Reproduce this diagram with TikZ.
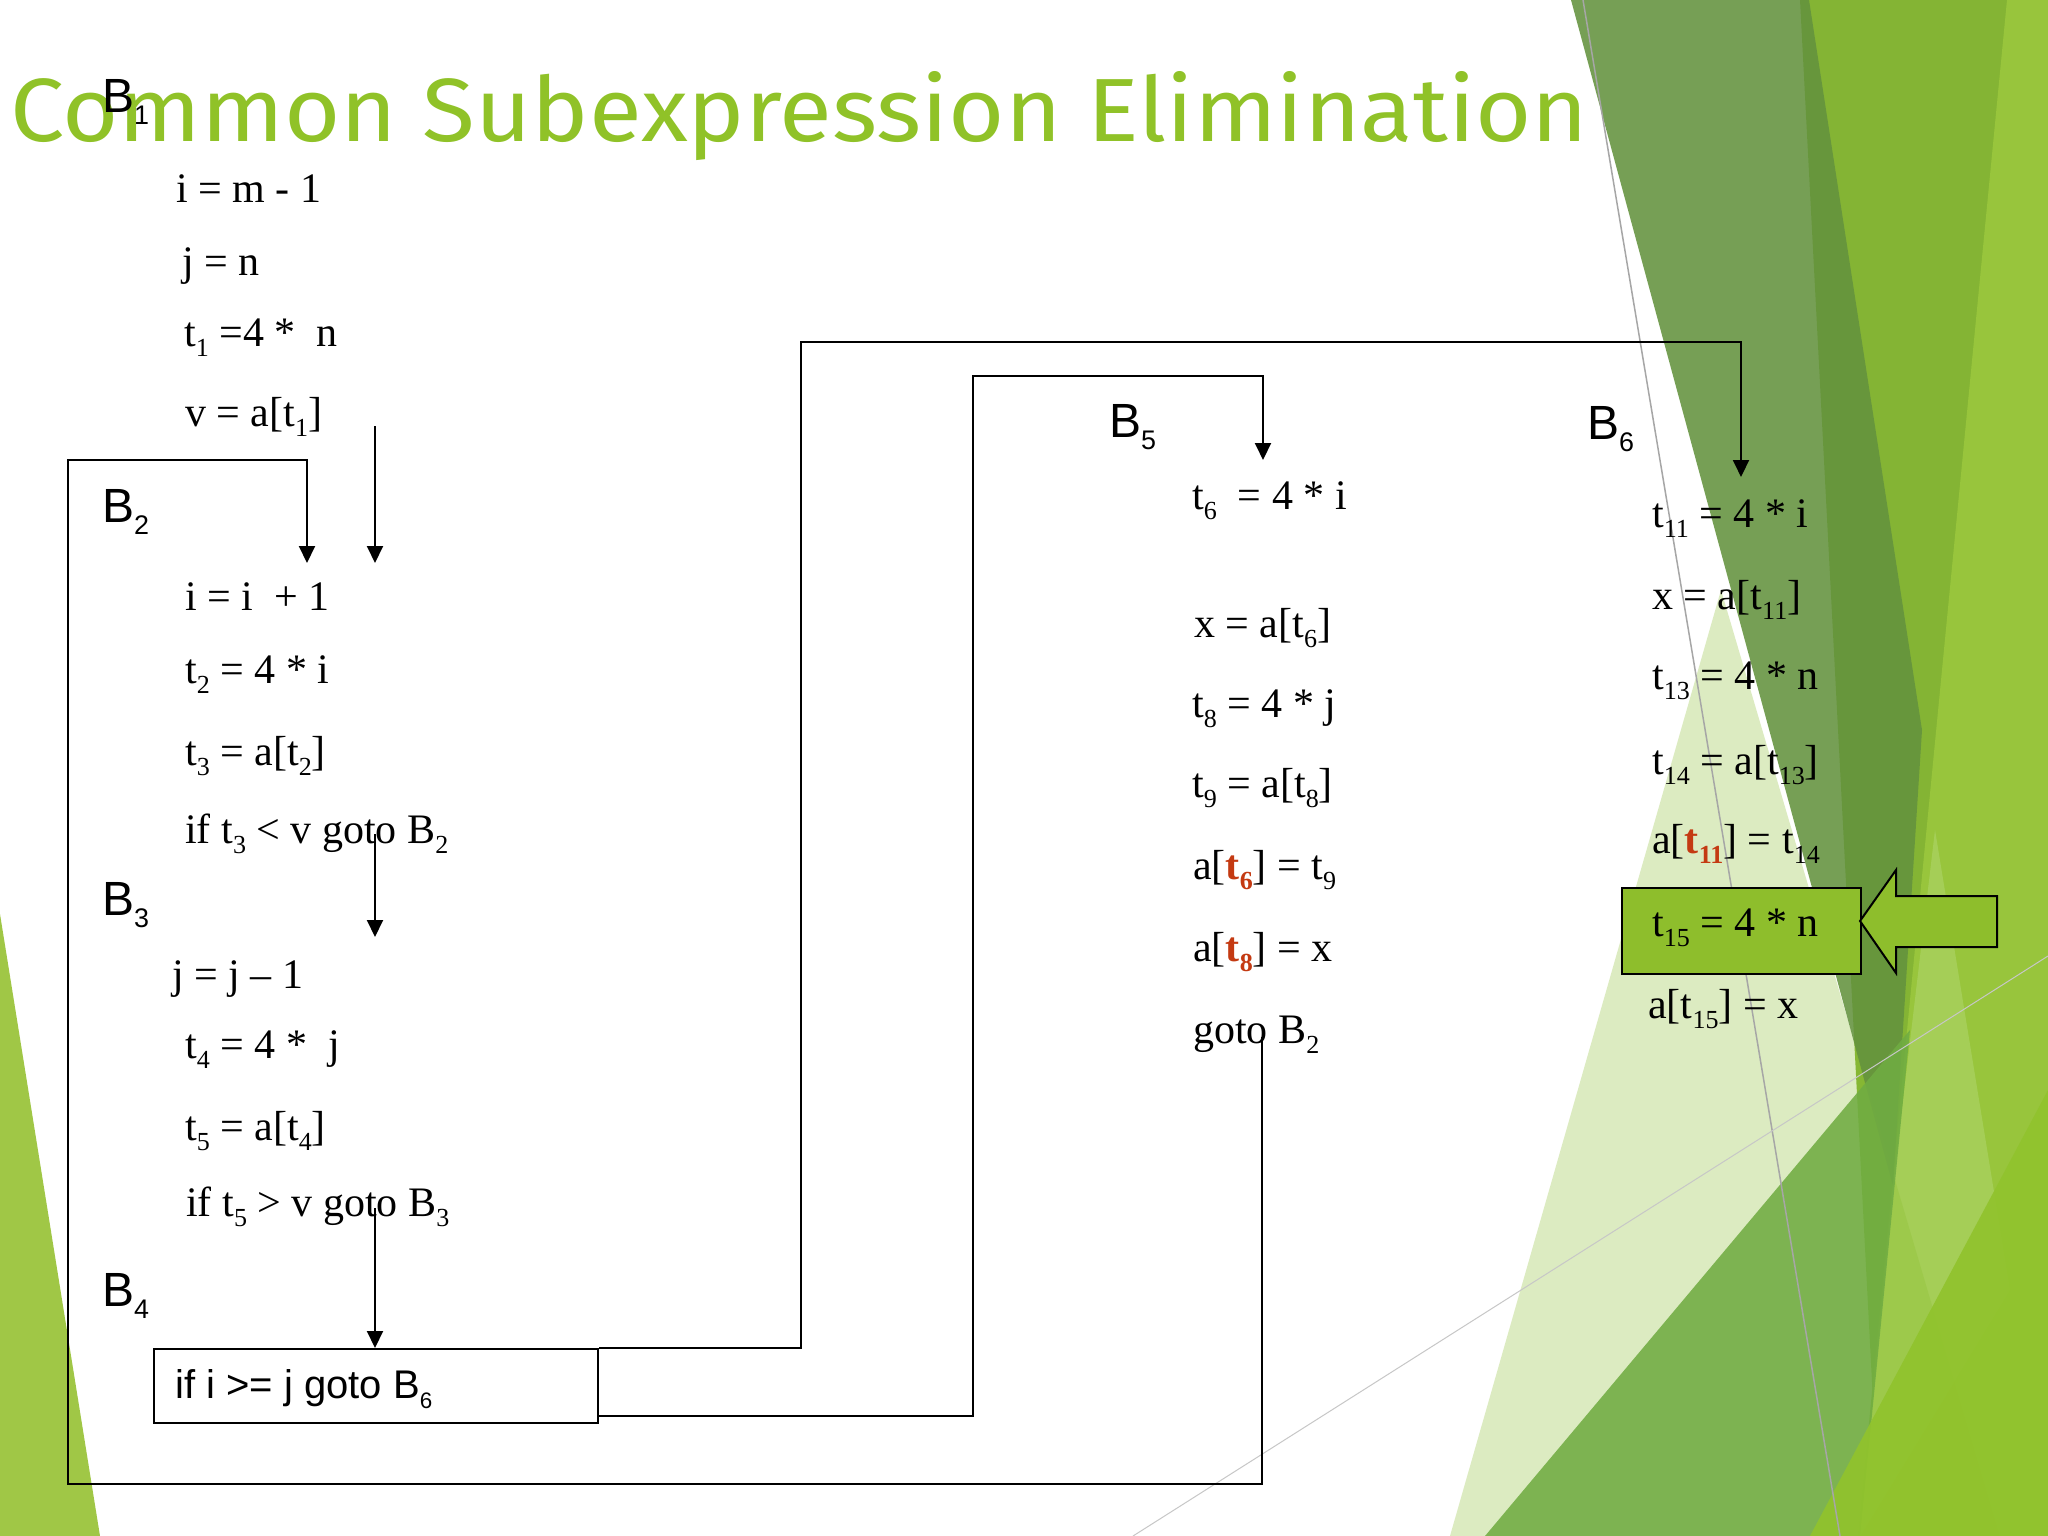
\documentclass[tikz,border=0pt]{standalone}
\usepackage{fontspec}
\setmainfont{Liberation Serif}
\newfontfamily\arialf{Liberation Sans}
\newfontfamily\titlef{Fira Sans}
\usetikzlibrary{arrows.meta}
\definecolor{titlegreen}{RGB}{144,194,40}
\definecolor{redt}{RGB}{196,58,18}
\definecolor{boxgreen}{RGB}{142,190,44}
\definecolor{leftgreen}{RGB}{160,199,70}
\definecolor{medgreen}{RGB}{132,180,52}
\definecolor{lightgreen}{RGB}{152,197,60}
\definecolor{palegreen}{RGB}{140,190,50}
\definecolor{olivegreen}{RGB}{100,146,62}
\definecolor{botgreen}{RGB}{112,172,66}
\definecolor{bot2green}{RGB}{145,195,45}
\definecolor{stripgreen}{RGB}{190,225,140}
\newcommand\lo[1]{\raisebox{-0.25em}{\scalebox{0.62}{#1}}}
\newcommand\blo[1]{\raisebox{-0.25em}{\scalebox{0.56}{#1}}}
\newcommand\rt[1]{\textcolor{redt}{\bfseries #1}}
\begin{document}
\begin{tikzpicture}[x=1pt,y=-1pt,
  code/.style={anchor=base west, inner sep=0pt, font=\fontsize{42}{42}\selectfont},
  blabel/.style={anchor=base west, inner sep=0pt, font=\arialf\fontsize{48}{48}\selectfont},
  conn/.style={line width=2pt, black},
  arr/.style={conn, -{Triangle[length=17pt,width=16pt]}}]
\useasboundingbox (0,0) rectangle (2048,1536);
\fill[white] (0,0) rectangle (2048,1536);
% background decoration
\fill[leftgreen] (0,914) -- (0,1536) -- (100,1536) -- cycle;
\fill[medgreen] (1800,0) -- (2048,0) -- (2048,1536) -- (1880,1536) -- cycle;
\fill[lightgreen] (2007,0) -- (2048,0) -- (2048,1536) -- (1858,1536) -- cycle;
\fill[stripgreen, opacity=0.35] (1893,1185) -- (1935,830) -- (2010,1290) -- (1860,1536) -- cycle;
\fill[palegreen, opacity=0.3] (1721,590) -- (1450,1536) -- (2000,1536) -- cycle;
\fill[olivegreen, opacity=0.88] (1571,0) -- (1809,0) -- (1922,730) -- (1893,1186) -- cycle;
\fill[botgreen, opacity=0.88] (1485,1536) -- (1910,1030) -- (1860,1536) -- cycle;
\fill[bot2green, opacity=0.92] (1810,1536) -- (2048,1090) -- (2048,1536) -- cycle;
\draw[black!35, line width=1.5pt] (1583,0) -- (1840,1536);
\draw[black!22, line width=1pt] (1133,1536) -- (2048,956);
% title
\node[anchor=base west, inner sep=0pt, text=titlegreen, font=\titlef] (title) at (10,142)
  {\resizebox{1577pt}{70pt}{Common Subexpression Elimination}};
% block labels
\node[blabel] (lb1) at (102,113) {B\blo{1}};
\node[blabel] (lb2) at (102,522) {B\blo{2}};
\node[blabel] (lb3) at (102,915) {B\blo{3}};
\node[blabel] (lb4) at (102,1306) {B\blo{4}};
\node[blabel] (lb5) at (1109,437) {B\blo{5}};
\node[blabel] (lb6) at (1587,439) {B\blo{6}};
% B1
\node[code] (b1a) at (176,202) {i = m - 1};
\node[code] (b1b) at (182,275) {j = n};
\node[code] (b1c) at (184,346) {t\lo{1} =4 *\ \ n};
\node[code] (b1d) at (185,426) {v = a[t\lo{1}]};
% B2
\node[code] (b2a) at (185,610) {i = i\ \ + 1};
\node[code] (b2b) at (185,683) {t\lo{2} = 4 * i};
\node[code] (b2c) at (185,765) {t\lo{3} = a[t\lo{2}]};
\node[code] (b2d) at (185,843) {if t\lo{3} < v goto B\lo{2}};
% B3
\node[code] (b3a) at (172,988) {j = j – 1};
\node[code] (b3b) at (185,1058) {t\lo{4} = 4 *\ \ j};
\node[code] (b3c) at (185,1140) {t\lo{5} = a[t\lo{4}]};
\node[code] (b3d) at (186,1216) {if t\lo{5} > v goto B\lo{3}};
% B4
\node[draw, line width=2pt, minimum width=444pt, minimum height=74pt, anchor=north west, inner sep=0pt] (b4box) at (153,1348) {};
\node[anchor=base west, inner sep=0pt, font=\arialf\fontsize{40}{40}\selectfont] (b4t) at (175,1398) {if i >= j goto B\blo{6}};
% B5
\node[code] (b5a) at (1192,509) {t\lo{6}\ \ = 4 * i};
\node[code] (b5b) at (1194,637) {x = a[t\lo{6}]};
\node[code] (b5c) at (1192,717) {t\lo{8} = 4 * j};
\node[code] (b5d) at (1192,797) {t\lo{9} = a[t\lo{8}]};
\node[code] (b5e) at (1193,879) {a[\rt{t\lo{6}}] = t\lo{9}};
\node[code] (b5f) at (1193,961) {a[\rt{t\lo{8}}] = x};
\node[code] (b5g) at (1193,1043) {goto B\lo{2}};
% B6 highlight
\node[draw, line width=2pt, fill=boxgreen, minimum width=239pt, minimum height=86pt, anchor=north west, inner sep=0pt] (hl) at (1621,887) {};
\draw[line width=2pt, fill=boxgreen] (1860,921) -- (1896,870) -- (1896,896) -- (1997,896) -- (1997,947) -- (1896,947) -- (1896,973) -- cycle;
% B6
\node[code] (b6a) at (1652,527) {t\lo{11} = 4 * i};
\node[code] (b6b) at (1652,609) {x = a[t\lo{11}]};
\node[code] (b6c) at (1652,689) {t\lo{13} = 4 * n};
\node[code] (b6d) at (1652,774) {t\lo{14} = a[t\lo{13}]};
\node[code] (b6e) at (1652,853) {a[\rt{t\lo{11}}] = t\lo{14}};
\node[code] (b6f) at (1652,936) {t\lo{15} = 4 * n};
\node[code] (b6g) at (1648,1018) {a[t\lo{15}] = x};
% connector ends
\coordinate (b1out) at (375,426);
\coordinate (b2in) at (375,563);
\coordinate (loopin) at (307,563);
\coordinate (b2out) at (375,834);
\coordinate (b3in) at (375,937);
\coordinate (b3out) at (375,1208);
\coordinate (gotoout) at (1262,1037);
\coordinate (b4low) at (597,1416);
\coordinate (b5in) at (1263,460);
\coordinate (b6in) at (1741,477);
% connectors
\draw[arr] (b1out) -- (b2in);
\draw[arr] (gotoout) -- (1262,1484) -| (68,460) -| (loopin);
\draw[arr] (b2out) -- (b3in);
\draw[arr] (b3out) -- (b3out |- b4box.north);
\draw[arr] (b4box.north east) -| (801,342) -| (b6in);
\draw[arr] (b4low) -| (973,376) -| (b5in);
\end{tikzpicture}
\end{document}
